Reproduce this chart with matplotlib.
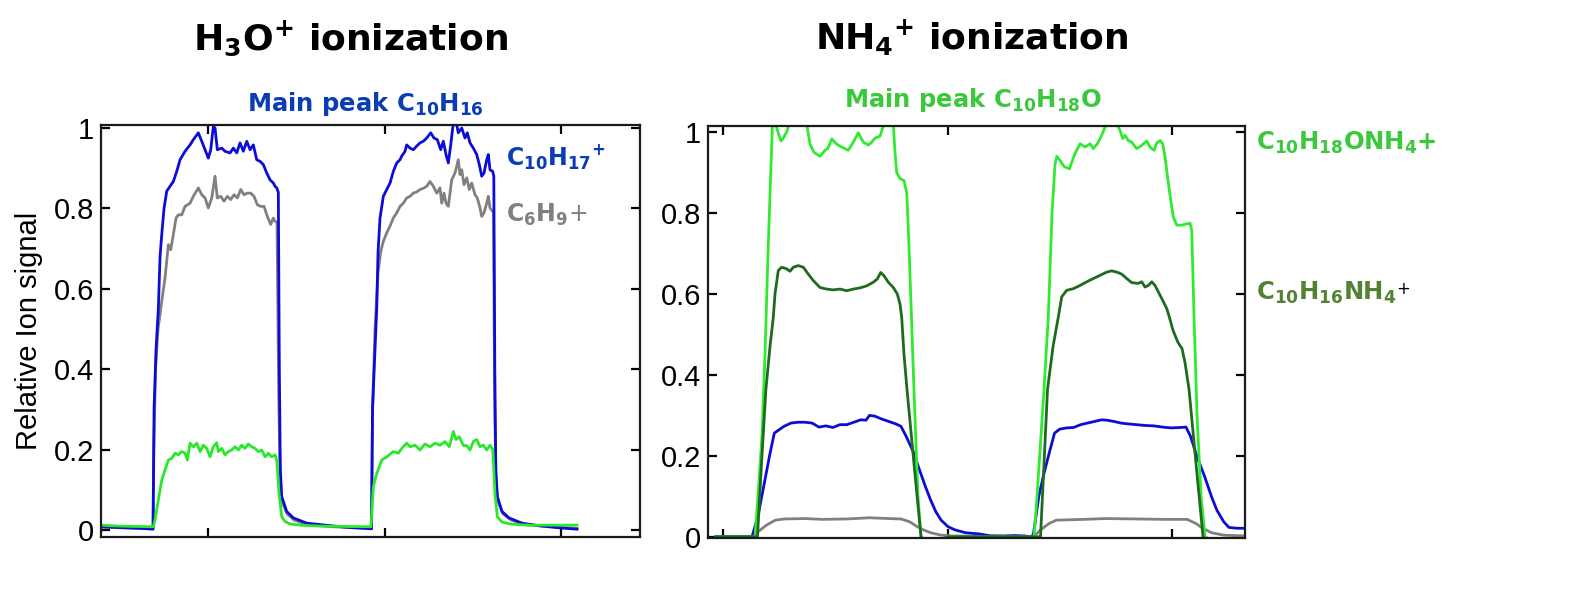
#!/usr/bin/env python3
"""Relative ion signal of two injection pulses: H3O+ vs NH4+ ionization."""
import matplotlib
matplotlib.use("Agg")
import matplotlib.pyplot as plt
import numpy as np

# ── H3O+ panel (time in s, relative signal) ────────────────────────────────
h3o_t_c10h17 = [0, 20, 40, 52, 53, 55, 57.3, 59, 60.7, 63, 65.7, 69, 72.3, 75.7, 79, 84, 89,
                92.3, 97.3, 100.7, 104, 107.3, 109.7, 112.3, 114, 116.3, 120.7, 124, 129,
                132.3, 135.7, 139, 142.3, 145.7, 149, 152.3, 155.7, 159, 162.3, 165.7, 169,
                172.3, 174, 175.7, 177.3, 178.3, 179.3, 180.7, 185.7, 192.3, 205.7, 232, 250,
                265.7, 270.5, 271.5, 274, 275.7, 277, 279, 282.3, 285.7, 289, 292.3, 295.7,
                299, 300.7, 304, 305.7, 309, 312.3, 315.7, 319, 322.3, 325.7, 329.7, 333,
                336.3, 339.7, 342.3, 345, 347.3, 349.7, 351.7, 354, 357.3, 360.7, 364, 366.3,
                369, 372.3, 375.7, 378.3, 380.7, 383, 385.7, 387.3, 389, 391.7, 392.8, 393.8,
                394.8, 396.3, 401, 408, 421, 440, 460, 476]
h3o_c10h17 = [0.008, 0.006, 0.004, 0.002, 0.3, 0.45, 0.55, 0.68, 0.735, 0.8, 0.843, 0.855,
              0.867, 0.892, 0.921, 0.942, 0.958, 0.971, 0.988, 0.967, 0.946, 0.925, 0.946,
              1.004, 1.0, 0.946, 0.95, 0.942, 0.938, 0.95, 0.938, 0.963, 0.942, 0.967, 0.946,
              0.958, 0.921, 0.917, 0.909, 0.888, 0.871, 0.863, 0.855, 0.851, 0.84, 0.4, 0.15,
              0.083, 0.046, 0.03, 0.017, 0.01, 0.006, 0.004, 0.003, 0.3, 0.45, 0.55, 0.69,
              0.776, 0.83, 0.847, 0.863, 0.892, 0.913, 0.921, 0.93, 0.942, 0.958, 0.95, 0.946,
              0.955, 0.963, 0.967, 0.975, 0.988, 0.975, 0.971, 0.946, 0.967, 0.934, 0.913,
              0.958, 1.0, 1.03, 0.988, 1.0, 0.975, 0.988, 0.963, 0.95, 0.934, 0.909, 0.88,
              0.888, 0.921, 0.934, 0.896, 0.892, 0.88, 0.4, 0.15, 0.083, 0.046, 0.03, 0.017,
              0.01, 0.005, 0.002]

h3o_t_c6h9 = [0, 52, 52.8, 54.5, 57, 60.7, 64, 67.3, 69.7, 72.3, 75, 77.3, 80.7, 84, 89,
              92.3, 97.3, 100.7, 104, 107.3, 110.7, 114, 116.3, 119.7, 123, 126.3, 129.7,
              133, 136.3, 139.7, 143, 146.3, 149.7, 153, 156.3, 159.7, 163, 166.3, 169.7,
              172.3, 174, 176, 177.6, 179.3, 181, 186, 193, 206, 232, 265, 270.5, 271.5, 274,
              277, 279.7, 282.3, 285.7, 289, 292.3, 295.7, 299, 302.3, 305.7, 309, 312.3,
              315.7, 319, 322.3, 325.7, 329, 332.3, 335.7, 339, 340.7, 343, 345, 347.3,
              350.7, 354, 357.3, 359, 360.7, 363, 365.7, 368.3, 370.7, 374, 376.3, 379,
              380.7, 383, 385.7, 387.3, 389, 392.5, 393.7, 395, 397, 402, 410, 425, 450, 476]
h3o_c6h9 = [0.007, 0.003, 0.2, 0.4, 0.5, 0.569, 0.627, 0.71, 0.697, 0.735, 0.776, 0.784,
            0.784, 0.805, 0.813, 0.83, 0.851, 0.834, 0.826, 0.801, 0.826, 0.88, 0.826, 0.83,
            0.818, 0.83, 0.822, 0.834, 0.826, 0.847, 0.834, 0.838, 0.838, 0.83, 0.809, 0.805,
            0.805, 0.78, 0.76, 0.776, 0.768, 0.765, 0.35, 0.1, 0.07, 0.04, 0.025, 0.013,
            0.008, 0.004, 0.003, 0.3, 0.5, 0.64, 0.693, 0.718, 0.739, 0.756, 0.776, 0.789,
            0.805, 0.813, 0.826, 0.83, 0.838, 0.841, 0.847, 0.85, 0.855, 0.867, 0.855, 0.838,
            0.851, 0.813, 0.838, 0.813, 0.805, 0.871, 0.888, 0.921, 0.884, 0.896, 0.859,
            0.876, 0.847, 0.863, 0.834, 0.826, 0.801, 0.78, 0.789, 0.813, 0.83, 0.801, 0.79,
            0.3, 0.12, 0.07, 0.04, 0.025, 0.013, 0.008, 0.004]

h3o_t_green = [0, 15, 30, 52.3, 54, 57.3, 60.7, 64, 67.3, 70.7, 74, 77.3, 80.7, 84, 86.3, 89,
               92.3, 95.7, 99, 102.3, 105.7, 109, 112.3, 115.7, 117.3, 120.7, 124, 127.3,
               130.7, 134, 137.3, 140.7, 144, 147.3, 150.7, 154, 157.3, 160.7, 164, 167.3,
               170.7, 174, 175.7, 178, 180.7, 184, 189, 199, 215.7, 232.3, 270, 272.3, 275.7,
               280.7, 285.7, 292.3, 297.3, 300.7, 305.7, 309, 314, 319, 324, 329, 334, 339,
               344, 348.3, 352.3, 355, 358.3, 362.3, 365.7, 369, 372.3, 375.7, 379, 382.3,
               385.7, 389, 391.7, 394, 396.3, 400.7, 409, 419, 432.3, 476]
h3o_green = [0.012, 0.01, 0.009, 0.008, 0.025, 0.075, 0.124, 0.149, 0.174, 0.178, 0.191,
             0.187, 0.195, 0.191, 0.174, 0.216, 0.207, 0.216, 0.195, 0.211, 0.203, 0.182,
             0.207, 0.217, 0.195, 0.203, 0.187, 0.195, 0.199, 0.207, 0.199, 0.211, 0.203,
             0.214, 0.207, 0.203, 0.195, 0.199, 0.182, 0.191, 0.182, 0.187, 0.174, 0.091,
             0.033, 0.021, 0.015, 0.012, 0.01, 0.009, 0.008, 0.108, 0.14, 0.174, 0.182, 0.195,
             0.191, 0.203, 0.216, 0.207, 0.211, 0.199, 0.214, 0.207, 0.216, 0.211, 0.22,
             0.207, 0.245, 0.225, 0.232, 0.21, 0.21, 0.199, 0.22, 0.225, 0.207, 0.211, 0.199,
             0.211, 0.2, 0.09, 0.033, 0.02, 0.015, 0.013, 0.012, 0.012]

# ── NH4+ panel ─────────────────────────────────────────────────────────────
nh4_t_onh4 = [8, 47, 50, 54, 57, 60, 64.3, 66, 68.7, 71.3, 73, 75.3, 78.7, 81.3, 90, 98.7,
              102, 106, 112, 117, 120, 123.7, 128.7, 132, 136, 140.3, 145.3, 150.3, 155.3,
              160.3, 163.7, 167, 172, 175.3, 180.3, 185.3, 187, 188.7, 192, 196, 198.7, 200.5,
              203.5, 206, 210, 213, 218, 228, 236, 240, 326, 329, 333, 336, 340.3, 344, 347,
              348.7, 352, 356, 361.3, 367, 372, 377, 382, 385.3, 389.3, 393.7, 397, 402,
              408.7, 412, 414.7, 417, 420.3, 423.7, 428.7, 433.7, 438.7, 442, 446, 448.7, 452,
              454.7, 457, 458.7, 461.3, 463.7, 465.3, 468.7, 473.7, 482, 483.7, 484.7, 486,
              489, 493, 497, 505, 520, 537]
nh4_onh4 = [0, 0, 0.1, 0.25, 0.45, 0.7, 1.01, 1.03, 1.01, 0.99, 0.978, 0.985, 1.0, 1.02,
            1.04, 1.02, 0.97, 0.95, 0.94, 0.955, 0.96, 0.983, 0.97, 0.965, 0.96, 0.955, 0.975,
            0.998, 0.975, 0.968, 0.975, 0.985, 0.99, 1.015, 1.04, 1.02, 0.95, 0.9, 0.885,
            0.88, 0.85, 0.75, 0.54, 0.36, 0.1, 0.0, -0.01, -0.02, -0.01, 0, 0, 0.1, 0.25,
            0.364, 0.543, 0.8, 0.92, 0.94, 0.93, 0.915, 0.909, 0.947, 0.971, 0.963, 0.971,
            0.959, 0.971, 0.992, 1.012, 1.03, 1.02, 1.004, 0.984, 0.992, 0.979, 0.975, 0.959,
            0.967, 0.978, 0.963, 0.955, 0.973, 0.979, 0.971, 0.938, 0.905, 0.856, 0.815,
            0.79, 0.77, 0.77, 0.775, 0.757, 0.667, 0.543, 0.3, 0.1, 0.0, -0.01, -0.015, -0.01]

nh4_t_nh4 = [8, 49.5, 53.5, 57.9, 62, 65.3, 67, 70.3, 73.7, 78.7, 82, 85.3, 90.3, 95.3, 100.3,
             105.3, 112, 118.7, 125.3, 132, 138.7, 145.3, 152, 158.7, 165.3, 169.3, 172.7,
             176, 180.3, 185.3, 189.3, 192, 193.7, 196, 199, 206, 213, 216, 230, 240, 332.5,
             336, 339.5, 345, 350.3, 353.7, 358.7, 365.3, 372, 378.7, 385.3, 392, 398.7,
             403.7, 408.7, 413.7, 418.7, 423.7, 430.3, 433.7, 437, 440.3, 443.7, 447, 450.3,
             454.7, 458.7, 461.3, 465, 470, 474, 477, 481, 488, 495, 498, 537]
nh4_nh4 = [0, 0, 0.18, 0.364, 0.47, 0.542, 0.6, 0.658, 0.666, 0.662, 0.656, 0.666, 0.67,
           0.666, 0.649, 0.633, 0.616, 0.612, 0.61, 0.612, 0.608, 0.612, 0.615, 0.62, 0.629,
           0.637, 0.653, 0.645, 0.629, 0.616, 0.6, 0.575, 0.542, 0.45, 0.364, 0.18, 0.0,
           -0.01, -0.01, 0, 0, 0.18, 0.364, 0.47, 0.543, 0.593, 0.609, 0.613, 0.621, 0.63,
           0.638, 0.646, 0.654, 0.657, 0.654, 0.649, 0.638, 0.628, 0.626, 0.63, 0.617, 0.621,
           0.63, 0.621, 0.605, 0.584, 0.564, 0.543, 0.51, 0.48, 0.465, 0.43, 0.364, 0.18,
           0.0, -0.01, -0.01]

nh4_t_blue = [8, 44, 49.9, 56.9, 62.1, 66.3, 70.8, 76.1, 83, 90, 97, 104, 111, 117.9, 124.9,
              131.9, 138.9, 145.8, 152.8, 158, 161.5, 166.8, 173.7, 180.7, 187.7, 192.9,
              198.2, 205.1, 212.1, 217.4, 222.6, 227.8, 233.1, 240, 247, 257.5, 271.4, 281.9,
              295.9, 306.3, 316.8, 323.8, 325.5, 330.8, 336, 341.2, 346.5, 351.7, 358.7,
              365.6, 372.6, 379.6, 386.6, 393.6, 398.8, 405.8, 412.7, 419.7, 428.4, 437.2,
              445.9, 454.6, 463.3, 472.1, 478, 482.5, 489.5, 496.6, 503.5, 508.8, 515.7, 521,
              529.6, 537]
nh4_blue = [0, 0, 0.05, 0.14, 0.207, 0.256, 0.264, 0.273, 0.281, 0.283, 0.283, 0.281, 0.271,
            0.274, 0.27, 0.277, 0.277, 0.283, 0.289, 0.288, 0.3, 0.298, 0.291, 0.285, 0.279,
            0.273, 0.248, 0.211, 0.161, 0.124, 0.091, 0.062, 0.041, 0.025, 0.017, 0.01, 0.007,
            0.0025, 0.002, 0.003, 0.002, 0.0, 0.008, 0.1, 0.157, 0.207, 0.256, 0.266, 0.269,
            0.27, 0.277, 0.281, 0.285, 0.289, 0.288, 0.285, 0.281, 0.279, 0.277, 0.275, 0.274,
            0.271, 0.269, 0.27, 0.271, 0.248, 0.194, 0.149, 0.099, 0.066, 0.037, 0.023, 0.021,
            0.021]

nh4_t_gray = [8, 44.7, 49.9, 58.6, 67.3, 76.1, 97, 114.4, 138.9, 161.5, 180.7, 192.9, 201.7,
              208.6, 215.6, 222.6, 233.1, 243.5, 325.5, 332.5, 341.2, 348.2, 376.1, 397,
              428.4, 456.4, 479, 487.8, 494.8, 503.5, 515.7, 537]
nh4_gray = [0, 0, 0.012, 0.029, 0.041, 0.044, 0.045, 0.043, 0.044, 0.047, 0.045, 0.044,
            0.037, 0.026, 0.017, 0.01, 0.004, 0.002, 0, 0.017, 0.033, 0.041, 0.043, 0.045,
            0.044, 0.043, 0.043, 0.033, 0.021, 0.01, 0.004, 0.002]

YTICKS = [0, 0.2, 0.4, 0.6, 0.8, 1.0]
YTICKLABELS = ["0", "0.2", "0.4", "0.6", "0.8", "1"]

BLUE = "#0c0cd8"
GRAY = "#808080"
LIME = "#28e828"
DKGREEN = "#1e6a1e"

plt.rcParams.update({
    "font.family": ["Liberation Sans", "DejaVu Sans"],
    "mathtext.fontset": "dejavusans",
    "axes.linewidth": 1.6,
    "axes.edgecolor": "#1a1a1a",
})

fig = plt.figure(figsize=(15.74, 5.94), dpi=100)
ax1 = fig.add_axes([0.0642, 0.0960, 0.3424, 0.6936])
ax2 = fig.add_axes([0.4498, 0.0943, 0.3412, 0.6936])

lw = 2.0
ax1.plot(h3o_t_c6h9, h3o_c6h9, color=GRAY, lw=lw)
ax1.plot(h3o_t_c10h17, h3o_c10h17, color=BLUE, lw=lw)
ax1.plot(h3o_t_green, h3o_green, color=LIME, lw=lw)
ax1.set_xlim(0, 539)
ax1.set_ylim(-0.0174, 1.0075)
ax1.set_xticks([107, 283.5, 460])

ax2.plot(nh4_t_gray, nh4_gray, color=GRAY, lw=lw)
ax2.plot(nh4_t_blue, nh4_blue, color=BLUE, lw=lw)
ax2.plot(nh4_t_onh4, nh4_onh4, color="#30ea30", lw=lw)
ax2.plot(nh4_t_nh4, nh4_nh4, color=DKGREEN, lw=lw)
ax2.set_xlim(0, 537)
ax2.set_ylim(-0.003, 1.015)
ax2.set_xticks([15, 239.5, 464])

for ax in (ax1, ax2):
    ax.set_yticks(YTICKS)
    ax.set_yticklabels(YTICKLABELS)
    ax.set_xticklabels([])
    ax.tick_params(which="both", direction="in", top=True, right=True,
                   length=6.5, width=1.6, labelsize=21, pad=5)

ax1.set_ylabel("Relative Ion signal", fontsize=21, labelpad=8)

# panel headings
bold = dict(family="DejaVu Sans", fontweight="bold")
fig.text(0.2224, 0.916, r"H$_\mathbf{3}$O$^\mathbf{+}$ ionization", ha="center",
         va="baseline", fontsize=26, **bold)
fig.text(0.6175, 0.916, r"NH$_\mathbf{4}$$^\mathbf{+}$ ionization", ha="center",
         va="baseline", fontsize=26, **bold)

ax1.text(0.49, 1.035, r"Main peak C$_\mathbf{10}$H$_\mathbf{16}$", transform=ax1.transAxes,
         ha="center", va="baseline", fontsize=17.5, color="#0a3cb4", **bold)
ax2.text(0.4935, 1.045, r"Main peak C$_\mathbf{10}$H$_\mathbf{18}$O", transform=ax2.transAxes,
         ha="center", va="baseline", fontsize=17.5, color="#3cc83c", **bold)

# series labels
ax1.text(0.751, 0.922, r"C$_\mathbf{10}$H$_\mathbf{17}$$^\mathbf{+}$", transform=ax1.transAxes,
         ha="left", va="center", fontsize=17, color="#0a3cb4", **bold)
ax1.text(0.751, 0.782, r"C$_\mathbf{6}$H$_\mathbf{9}$$+$", transform=ax1.transAxes,
         ha="left", va="center", fontsize=17, color=GRAY, **bold)
ax2.text(1.0205, 0.958, r"C$_\mathbf{10}$H$_\mathbf{18}$ONH$_\mathbf{4}$+", transform=ax2.transAxes,
         ha="left", va="center", fontsize=17.5, color="#3cc83c", **bold)
lab = ax2.text(1.0205, 0.594, r"C$_\mathbf{10}$H$_\mathbf{16}$NH$_\mathbf{4}$", transform=ax2.transAxes,
               ha="left", va="center", fontsize=17.5, color="#548235", **bold)
ax2.annotate("+", xy=(1.0, 0.3), xycoords=lab, ha="left", va="bottom",
             fontsize=12, color="black", family="DejaVu Sans")

fig.savefig("out.png", dpi=100, facecolor="white")
